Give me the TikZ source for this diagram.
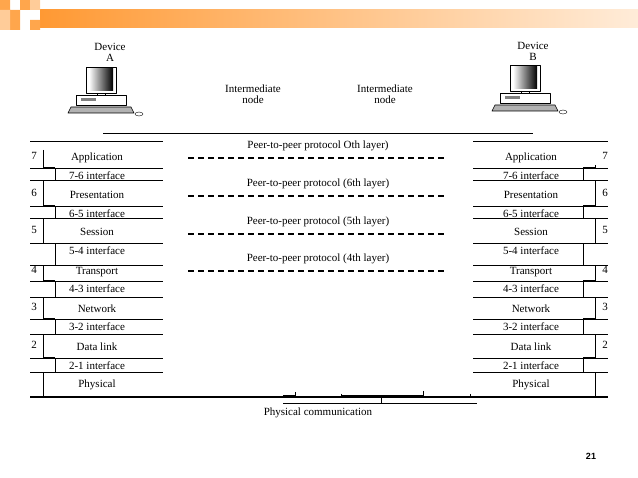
\documentclass[tikz,border=0pt]{standalone}
\usepackage{fontspec}
\setmainfont{Liberation Serif}
\newfontfamily\numfont{Liberation Sans}
\begin{document}
\begin{tikzpicture}[x=1pt,y=-1pt,font=\fontsize{11}{11}\selectfont, line join=round]
	\tikzset{layer/.style={inner sep=0pt}, peer/.style={dashed, line width=1.2pt, dash pattern=on 6pt off 4pt},
		pc/.style={draw, fill=white, line width=0.6pt}}
	\useasboundingbox (0,0) rectangle (638,478);
	% slide decoration
	\shade[left color=orange!80, right color=orange!15] (40,10) rectangle (638,28);
	\fill[orange!70] (0,0) rectangle (10,10) (10,10) rectangle (20,20) (20,0) rectangle (30,10)
		(30,20) rectangle (40,30) (10,20) rectangle (20,30);
	\fill[orange!40] (0,10) rectangle (10,30) (30,0) rectangle (40,10);
	\node[font=\numfont\bfseries\small] (num) at (591,456) {21};
	% devices
	\node[align=center] (devA) at (110,52) {Device\\A};
	\node[align=center] (devB) at (533,51) {Device\\B};
	\foreach \cx/\cy in {101/95, 525/93}{
		\draw[pc] (\cx-15,\cy-28) rectangle (\cx+15,\cy-2);
		\shade[left color=white, right color=black] (\cx-12,\cy-26) rectangle (\cx+12,\cy-4);
		\draw[pc] (\cx-25,\cy) rectangle (\cx+25,\cy+10);
		\draw (\cx-4,\cy-2)--(\cx-4,\cy) (\cx+4,\cy-2)--(\cx+4,\cy);
		\fill[gray] (\cx-20,\cy+3) rectangle (\cx-5,\cy+6);
		\draw[pc, fill=gray!60] (\cx-30,\cy+12) -- (\cx+30,\cy+12) -- (\cx+33,\cy+18) -- (\cx-33,\cy+18) -- cycle;
		\draw (\cx+38,\cy+19) ellipse (4 and 2);
	}
	\node[align=center] (intA) at (253,94) {Intermediate\\node};
	\node[align=center] (intB) at (385,94) {Intermediate\\node};
	\draw (103,133) -- (533,133);
	% stacks
	\foreach \xa/\xb/\xm in {30/163/97, 473/608/531}{
		\draw (\xa,141) -- (\xb,141);
		\foreach \y in {168,180,206,218,243,265,281,297,319,334,358,372}
			\draw (\xa,\y) -- (\xb,\y);
		\draw[line width=1.2pt] (\xa,397) -- (\xb,397);
	}
	\foreach \t/\y/\n [count=\i] in {Application/158/7, Presentation/195/6, Session/232/5, Transport/272/4, Network/309/3, Data link/347/2, Physical/385/}{
		\node[layer] (L\i) at (97,\y) {\t};
		\node[layer] (R\i) at (531,\y) {\t};
		\node[layer] (nl\i) at (34,\y-2) {\n};
		\node[layer] (nr\i) at (605,\y-2) {\n};
	}
	\foreach \t/\y [count=\i] in {7-6/176, 6-5/214, 5-4/251, 4-3/289, 3-2/327, 2-1/366}{
		\node[layer] (LI\i) at (97,\y) {\t\ interface};
		\node[layer] (RI\i) at (531,\y) {\t\ interface};
	}
	% brackets
	\draw[line width=0.8pt] (43,150) -- (43,168) -- (55,168) -- (55,180) -- (43,180) -- (43,206) -- (55,206) -- (55,218)
		-- (43,218) -- (43,243) -- (55,243) -- (55,265) -- (43,265) -- (43,281) -- (55,281) -- (55,297) -- (43,297) -- (43,319)
		-- (55,319) -- (55,334) -- (43,334) -- (43,358) -- (55,358) -- (55,372) -- (43,372) -- (43,397) -- (55,397);
	\draw[line width=0.8pt] (595,165) -- (595,168) -- (583,168) -- (583,180) -- (595,180) -- (595,206) -- (583,206) -- (583,218)
		-- (595,218) -- (595,243) -- (583,243) -- (583,265) -- (595,265) -- (595,281) -- (583,281) -- (583,297) -- (595,297) -- (595,319)
		-- (583,319) -- (583,334) -- (595,334) -- (595,358) -- (583,358) -- (583,372) -- (595,372) -- (595,397);
	\foreach \y in {168,206,281,319,358,397}
		\draw[line width=2pt] (43,\y) -- (55,\y) (583,\y) -- (595,\y);
	% peer protocols
	\foreach \t/\y [count=\i] in {Oth layer)/146, (6th layer)/184, (5th layer)/222, (4th layer)/259}{
		\node[layer] (P\i) at (318,\y) {Peer-to-peer protocol \t};
		\draw[peer] (188,\y+12) -- (447,\y+12);
	}
	% physical medium
	\draw[line width=1.2pt] (163,397) -- (473,397);
	\draw[line width=2.5pt] (283,396) -- (295,396) (341,396) -- (423,396);
	\draw (295,392) -- (295,397) (341,394) -- (341,397) (423,391) -- (423,397) (470,394) -- (470,397);
	\draw (283,403) -- (477,403) (381,397) -- (381,403);
	\node[layer] (phys) at (318,413) {Physical communication};
\end{tikzpicture}
\end{document}
